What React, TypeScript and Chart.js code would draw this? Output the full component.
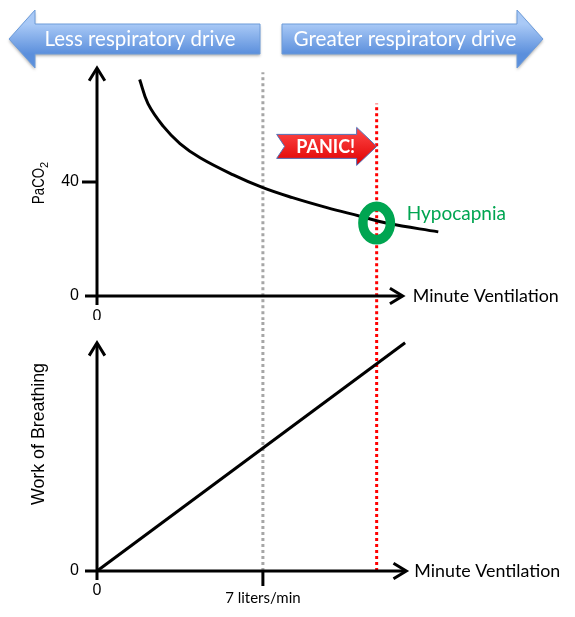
import { useEffect, useRef } from 'react'
import { Chart, registerables } from 'chart.js'

Chart.register(...registerables)

// upper panel: PaCO2 against minute ventilation (L/min)
const ventilation = [1.8, 2.15, 2.8, 3.5, 4.35, 5.75, 7, 8.25, 9.7, 11.1, 12.25, 14.4]
const paco2 = [76, 67.5, 59.5, 53.5, 48.5, 42.5, 38, 34.5, 31, 28, 25.5, 22.5]

// lower panel: work of breathing (arbitrary units)
const workVentilation = [0, 13]
const work = [0, 100]

const normalVent = 7
const panicVent = 11.8
const hypocapniaLevel = 25.6
const paco2Ticks = [0, 40]
const ventTicks = [0, 7]
const ventTickLabels = ['0', '7 liters/min']
const driveLabels = ['Less respiratory drive', 'Greater respiratory drive']

const TICK_FONT = '16px "Liberation Sans"'

function axisArrow(ctx: CanvasRenderingContext2D, x1: number, y1: number, x2: number, y2: number) {
  const a = Math.atan2(y2 - y1, x2 - x1)
  ctx.beginPath()
  ctx.moveTo(x1, y1)
  ctx.lineTo(x2 - 1.5 * Math.cos(a), y2 - 1.5 * Math.sin(a))
  ctx.stroke()
  const L = 15
  const W = 0.55
  ctx.beginPath()
  ctx.moveTo(x2 - L * Math.cos(a - W), y2 - L * Math.sin(a - W))
  ctx.lineTo(x2, y2)
  ctx.lineTo(x2 - L * Math.cos(a + W), y2 - L * Math.sin(a + W))
  ctx.stroke()
}

function banner(ctx: CanvasRenderingContext2D, tip: number, head: number, tail: number, cy: number, label: string, tx: number, tw: number) {
  ctx.save()
  ctx.beginPath()
  ctx.moveTo(tip, cy)
  ctx.lineTo(head, cy - 29)
  ctx.lineTo(head, cy - 15)
  ctx.lineTo(tail, cy - 15)
  ctx.lineTo(tail, cy + 15)
  ctx.lineTo(head, cy + 15)
  ctx.lineTo(head, cy + 29)
  ctx.closePath()
  const g = ctx.createLinearGradient(0, cy - 15, 0, cy + 15)
  g.addColorStop(0, '#a9c9f6')
  g.addColorStop(1, '#5b8fdc')
  ctx.fillStyle = g
  ctx.shadowColor = 'rgba(0,0,0,0.3)'
  ctx.shadowBlur = 3
  ctx.shadowOffsetY = 2
  ctx.fill()
  ctx.shadowColor = 'transparent'
  ctx.strokeStyle = '#6c9bd9'
  ctx.lineWidth = 1
  ctx.stroke()
  ctx.fillStyle = '#fff'
  ctx.font = '21px Lato'
  ctx.textAlign = 'center'
  ctx.textBaseline = 'middle'
  ctx.fillText(label, tx, cy, tw)
  ctx.restore()
}

const topDecor = {
  id: 'topDecor',
  afterDatasetsDraw(chart: Chart) {
    const { ctx } = chart
    const xs = chart.scales.x
    const ys = chart.scales.y
    const X = (v: number) => xs.getPixelForValue(v)
    const Y = (v: number) => ys.getPixelForValue(v)
    ctx.save()

    banner(ctx, 9, 35, 260, 39, driveLabels[0], 140, 191)
    banner(ctx, 543, 517, 282, 39, driveLabels[1], 405, 223)

    // axes
    ctx.strokeStyle = '#000'
    ctx.lineWidth = 3
    ctx.lineJoin = 'miter'
    axisArrow(ctx, X(0), Y(0) + 9, X(0), Y(80))
    axisArrow(ctx, X(0) - 12, Y(0), X(12.9), Y(0))
    ctx.beginPath()
    ctx.moveTo(X(0) - 15, Y(40))
    ctx.lineTo(X(0), Y(40))
    ctx.stroke()

    ctx.fillStyle = '#000'
    ctx.font = TICK_FONT
    ctx.textAlign = 'right'
    ctx.textBaseline = 'middle'
    paco2Ticks.forEach(t => ctx.fillText(String(t), X(0) - 18, Y(t)))
    ctx.textAlign = 'center'
    ctx.fillText(ventTickLabels[0], X(ventTicks[0]), Y(0) + 21)

    ctx.font = '18px Lato'
    ctx.textAlign = 'left'
    ctx.fillText('Minute Ventilation', X(12.9) + 10, Y(0), 146)

    // PaCO2 label
    ctx.save()
    ctx.translate(44, 183)
    ctx.rotate(-Math.PI / 2)
    ctx.textAlign = 'left'
    ctx.textBaseline = 'alphabetic'
    ctx.font = '17px "Liberation Sans"'
    ctx.fillText('PaCO', -21, 0, 36)
    ctx.font = '11px "Liberation Sans"'
    ctx.fillText('2', 15, 4)
    ctx.restore()

    // PANIC! arrow pointing at the red line
    const tip = X(panicVent)
    const cy = Y(52.5)
    ctx.beginPath()
    ctx.moveTo(tip - 100, cy - 12)
    ctx.lineTo(tip - 20, cy - 12)
    ctx.lineTo(tip - 20, cy - 19)
    ctx.lineTo(tip, cy)
    ctx.lineTo(tip - 20, cy + 19)
    ctx.lineTo(tip - 20, cy + 12)
    ctx.lineTo(tip - 100, cy + 12)
    ctx.lineTo(tip - 92, cy)
    ctx.closePath()
    const g = ctx.createLinearGradient(0, cy - 19, 0, cy + 19)
    g.addColorStop(0, '#ff4a4a')
    g.addColorStop(1, '#e00000')
    ctx.fillStyle = g
    ctx.fill()
    ctx.strokeStyle = '#5271b8'
    ctx.lineWidth = 1
    ctx.stroke()
    ctx.fillStyle = '#fff'
    ctx.font = 'bold 18px Lato'
    ctx.textAlign = 'center'
    ctx.fillText('PANIC!', tip - 51, cy + 1, 60)

    // hypocapnia ring
    ctx.strokeStyle = '#00a551'
    ctx.lineWidth = 9.5
    ctx.beginPath()
    ctx.ellipse(X(panicVent), Y(hypocapniaLevel), 13.75, 16.75, 0, 0, Math.PI * 2)
    ctx.stroke()
    ctx.fillStyle = '#00a551'
    ctx.font = '19px Lato'
    ctx.textAlign = 'left'
    ctx.fillText('Hypocapnia', X(panicVent) + 30, Y(hypocapniaLevel) - 9, 102)

    ctx.restore()
  },
}

const bottomDecor = {
  id: 'bottomDecor',
  afterDatasetsDraw(chart: Chart) {
    const { ctx } = chart
    const xs = chart.scales.x
    const ys = chart.scales.y
    const X = (v: number) => xs.getPixelForValue(v)
    const Y = (v: number) => ys.getPixelForValue(v)
    ctx.save()
    ctx.strokeStyle = '#000'
    ctx.lineWidth = 3
    ctx.lineJoin = 'miter'
    axisArrow(ctx, X(0), Y(0) + 9, X(0), Y(100))
    axisArrow(ctx, X(0) - 12, Y(0), X(13.05), Y(0))
    ctx.beginPath()
    ctx.moveTo(X(ventTicks[1]), Y(0))
    ctx.lineTo(X(ventTicks[1]), Y(0) + 15)
    ctx.stroke()

    ctx.fillStyle = '#000'
    ctx.font = TICK_FONT
    ctx.textAlign = 'right'
    ctx.textBaseline = 'middle'
    ctx.fillText('0', X(0) - 18, Y(0))
    ctx.textAlign = 'center'
    ctx.fillText(ventTickLabels[0], X(ventTicks[0]), Y(0) + 20)
    ctx.font = '15px Lato'
    ctx.fillText(ventTickLabels[1], X(ventTicks[1]), Y(0) + 27, 80)

    ctx.font = '18px Lato'
    ctx.textAlign = 'left'
    ctx.fillText('Minute Ventilation', X(13.05) + 8, Y(0), 146)

    // y-axis title, centred at page y = 434 (canvas starts at 320)
    ctx.save()
    ctx.translate(44, 114)
    ctx.rotate(-Math.PI / 2)
    ctx.textAlign = 'center'
    ctx.textBaseline = 'alphabetic'
    ctx.font = '18px "Liberation Sans"'
    ctx.fillText('Work of Breathing', 0, 0, 142)
    ctx.restore()
    ctx.restore()
  },
}

const dotted = (color: string) => ({
  showLine: true,
  borderColor: color,
  borderWidth: 3,
  borderDash: [3, 3],
  borderCapStyle: 'butt' as const,
  pointRadius: 0,
  clip: false as const,
})

const baseOptions = (yMax: number, padding: any) => ({
  responsive: true,
  maintainAspectRatio: false,
  animation: false as const,
  layout: { padding },
  plugins: { legend: { display: false }, tooltip: { enabled: false } },
  scales: {
    x: { type: 'linear' as const, min: 0, max: 20, display: false },
    y: { type: 'linear' as const, min: 0, max: yMax, display: false },
  },
})

export default function App() {
  const topRef = useRef<HTMLCanvasElement>(null)
  const bottomRef = useRef<HTMLCanvasElement>(null)

  useEffect(() => {
    if (!topRef.current || !bottomRef.current) return

    const top = new Chart(topRef.current, {
      type: 'scatter',
      data: {
        datasets: [
          {
            data: ventilation.map((v, i) => ({ x: v, y: paco2[i] })),
            showLine: true,
            borderColor: '#000',
            borderWidth: 3,
            pointRadius: 0,
            tension: 0.4,
            clip: false,
          },
          { data: [{ x: panicVent, y: -8.5 }, { x: panicVent, y: 67.5 }], ...dotted('#ff0000') },
          { data: [{ x: normalVent, y: -8.5 }, { x: normalVent, y: 78.5 }], ...dotted('#a6a6a6') },
        ],
      },
      options: baseOptions(90, { left: 97, right: 4, top: 39.5, bottom: 24 }),
      plugins: [topDecor],
    })

    const bottom = new Chart(bottomRef.current, {
      type: 'scatter',
      data: {
        datasets: [
          {
            data: workVentilation.map((v, i) => ({ x: v, y: work[i] })),
            showLine: true,
            borderColor: '#000',
            borderWidth: 3,
            pointRadius: 0,
            clip: false,
          },
          { data: [{ x: panicVent, y: 0 }, { x: panicVent, y: 110 }], ...dotted('#ff0000') },
          { data: [{ x: normalVent, y: 0 }, { x: normalVent, y: 110 }], ...dotted('#a6a6a6') },
        ],
      },
      options: baseOptions(110, { left: 97, right: 4, top: 0, bottom: 46 }),
      plugins: [bottomDecor],
    })

    return () => {
      top.destroy()
      bottom.destroy()
    }
  }, [])

  return (
    <div style={{ position: 'absolute', left: 0, top: 0, width: 575, height: 617, background: '#fff' }}>
      <div style={{ position: 'absolute', left: 0, top: 0, width: 575, height: 320 }}>
        <canvas ref={topRef} />
      </div>
      <div style={{ position: 'absolute', left: 0, top: 320, width: 575, height: 297 }}>
        <canvas ref={bottomRef} />
      </div>
    </div>
  )
}
